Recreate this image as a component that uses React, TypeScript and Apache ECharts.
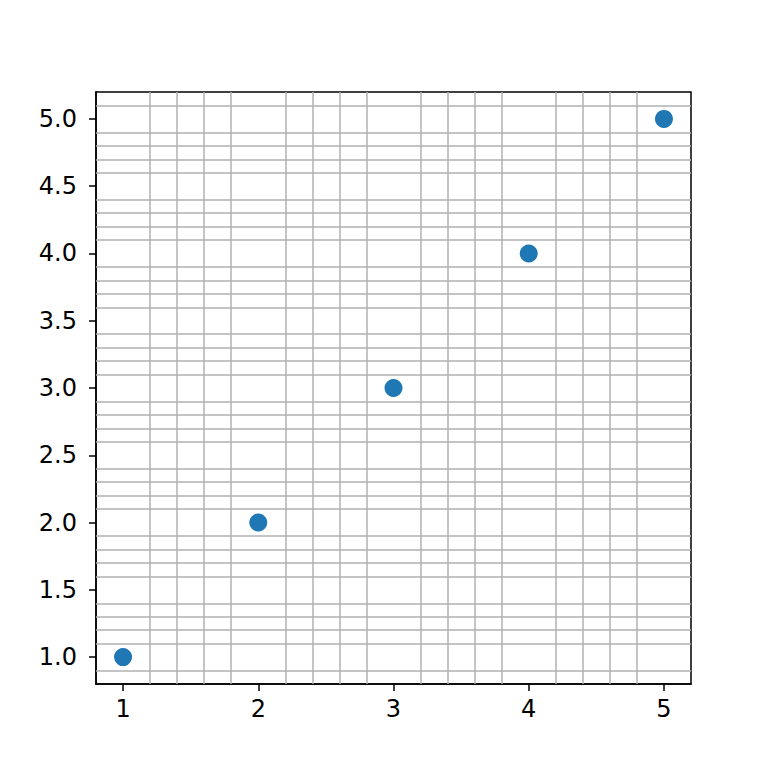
import React, { useEffect, useRef } from "react";
import * as echarts from "echarts";

const xValues = [1, 2, 3, 4, 5];
const yValues = [1, 2, 3, 4, 5];
const xTickLabels = [1, 2, 3, 4, 5];
const yTickLabels = [1.0, 1.5, 2.0, 2.5, 3.0, 3.5, 4.0, 4.5, 5.0];
const xMinorGrid = [1.2, 1.4, 1.6, 1.8, 2.2, 2.4, 2.6, 2.8, 3.2, 3.4, 3.6, 3.8, 4.2, 4.4, 4.6, 4.8];
const yMinorGrid = [
  0.9, 1.1, 1.2, 1.3, 1.4, 1.6, 1.7, 1.8, 1.9, 2.1, 2.2, 2.3, 2.4, 2.6, 2.7, 2.8, 2.9,
  3.1, 3.2, 3.3, 3.4, 3.6, 3.7, 3.8, 3.9, 4.1, 4.2, 4.3, 4.4, 4.6, 4.7, 4.8, 4.9, 5.1,
];

export default function App() {
  const ref = useRef<HTMLDivElement>(null);
  useEffect(() => {
    if (!ref.current) return;
    const chart = echarts.init(ref.current, null, { renderer: "svg" });
    const font = { fontFamily: "DejaVu Sans", fontSize: 24, color: "#000" };
    const gridData = [
      ...xMinorGrid.map((v) => ({ xAxis: v })),
      ...yMinorGrid.map((v) => ({ yAxis: v })),
    ];
    chart.setOption({
      animation: false,
      backgroundColor: "#fff",
      grid: {
        left: 88,
        top: 84,
        width: 595,
        height: 592,
        show: true,
        borderColor: "#000",
        borderWidth: 1.5,
        backgroundColor: "transparent",
      },
      xAxis: {
        type: "value",
        min: 0.8,
        max: 5.2,
        axisLine: { show: true, onZero: false, lineStyle: { color: "#000", width: 1.5 } },
        axisTick: { show: true, length: 7, customValues: xTickLabels, lineStyle: { color: "#000", width: 1.5 } },
        axisLabel: { ...font, margin: 13, customValues: xTickLabels, formatter: (v: number) => String(v) },
        splitLine: { show: false },
      },
      yAxis: {
        type: "value",
        min: 0.8,
        max: 5.2,
        axisLine: { show: true, onZero: false, lineStyle: { color: "#000", width: 1.5 } },
        axisTick: { show: true, length: 7, customValues: yTickLabels, lineStyle: { color: "#000", width: 1.5 } },
        axisLabel: { ...font, margin: 19, customValues: yTickLabels, formatter: (v: number) => v.toFixed(1) },
        splitLine: { show: false },
      },
      series: [
        {
          type: "scatter",
          z: 3,
          data: xValues.map((x, i) => [x, yValues[i]]),
          symbolSize: 18,
          itemStyle: { color: "#1f77b4", opacity: 1 },
          markLine: {
            z: 1,
            silent: true,
            symbol: ["none", "none"],
            label: { show: false },
            lineStyle: { type: "solid", color: "#b0b0b0", width: 1.5 },
            emphasis: { disabled: true },
            data: gridData,
          },
        },
      ],
    });
    return () => chart.dispose();
  }, []);
  return <div ref={ref} style={{ width: 768, height: 768 }} />;
}
